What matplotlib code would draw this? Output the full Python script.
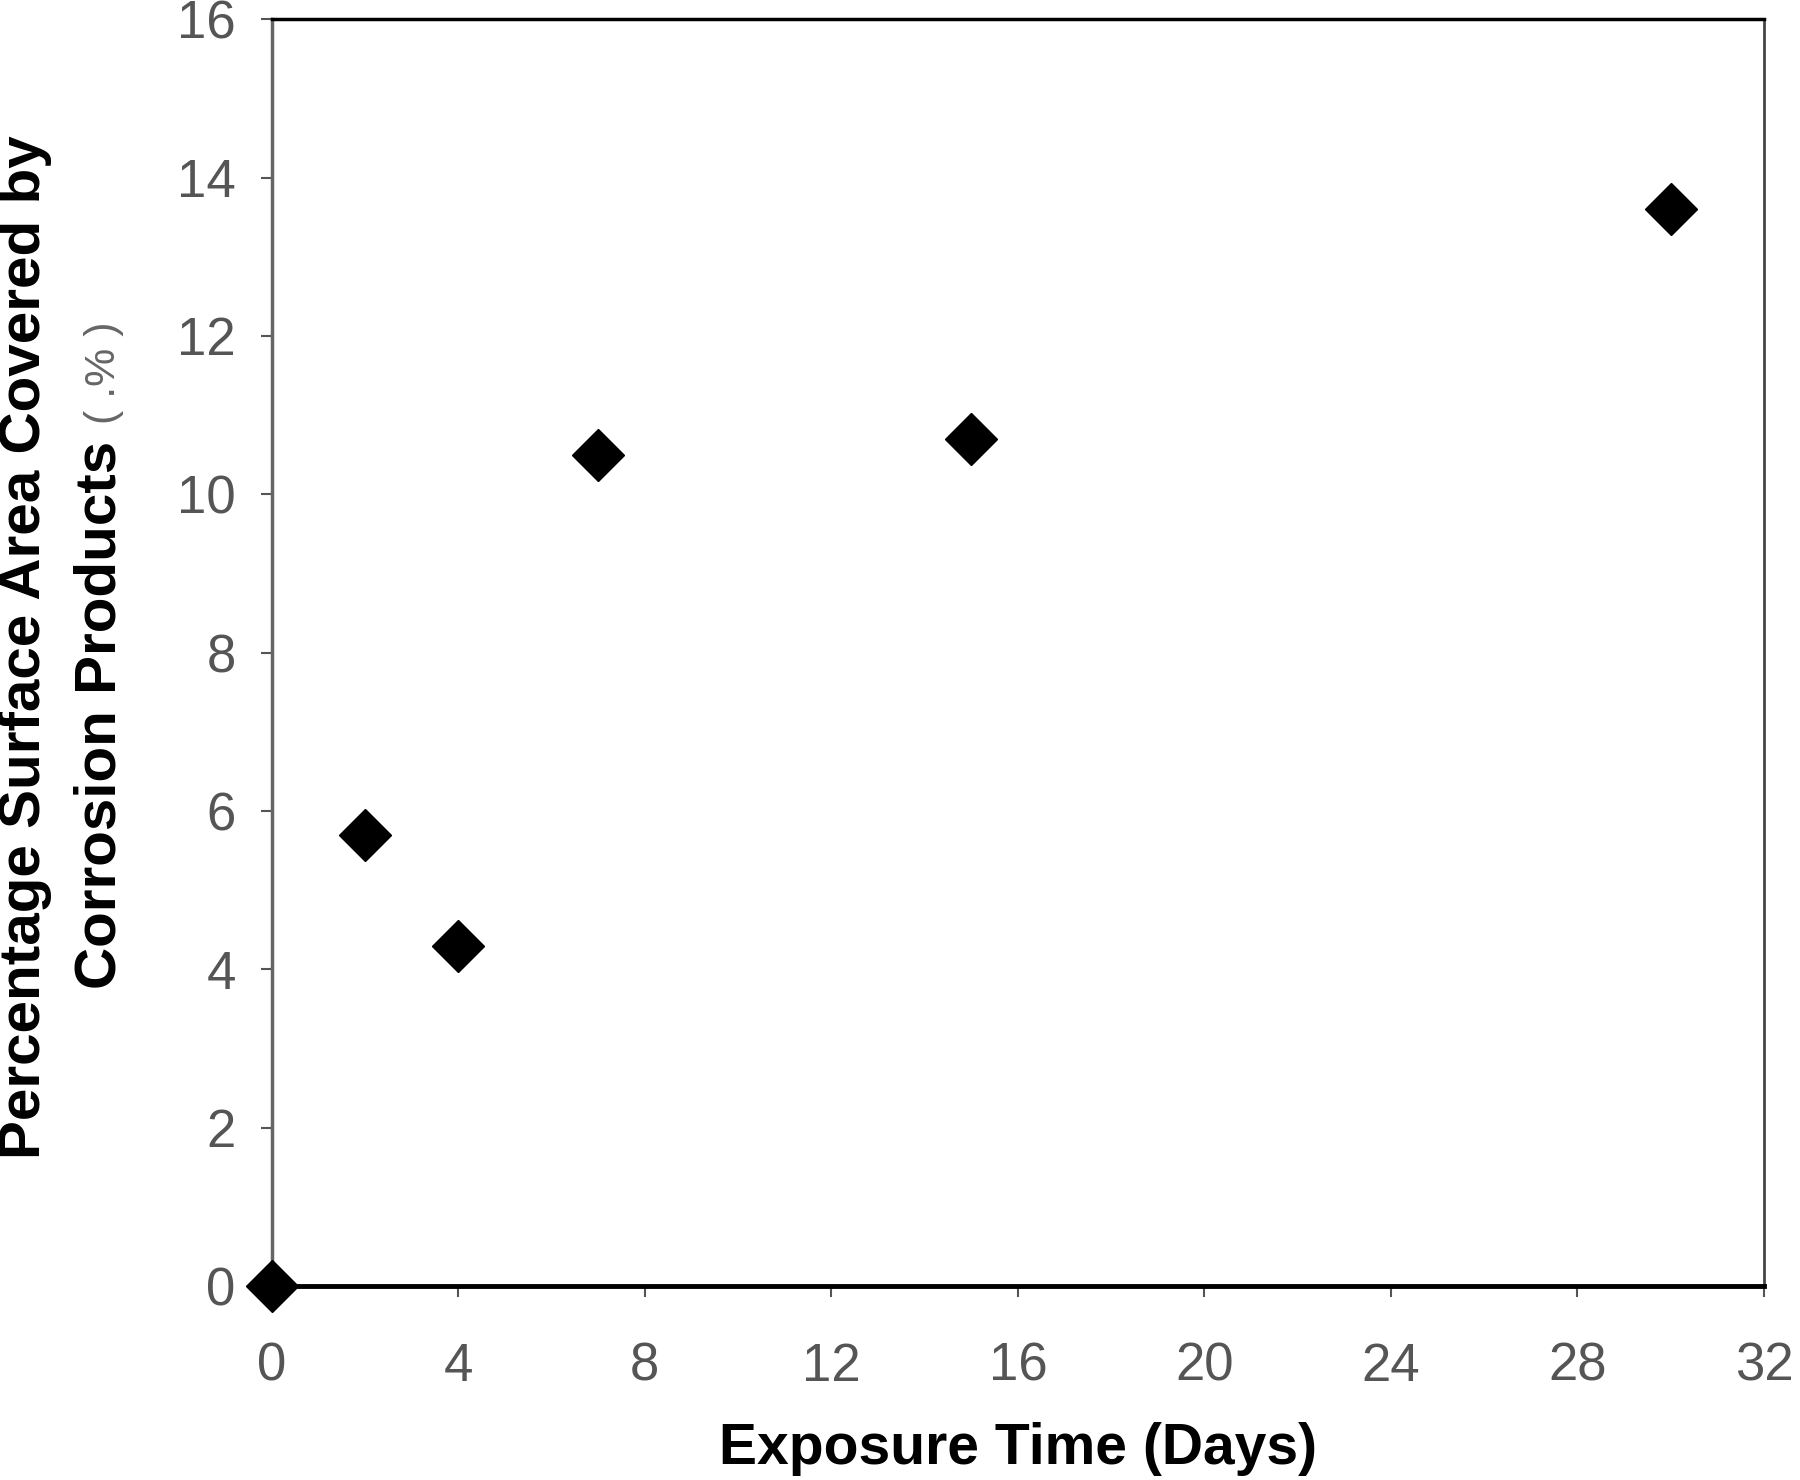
import matplotlib.pyplot as plt

plt.rcParams['font.family'] = ['Liberation Sans', 'DejaVu Sans']

days = [0, 2, 4, 7, 15, 30]
coverage = [0.0, 5.7, 4.3, 10.5, 10.7, 13.6]
x_ticks = [0, 4, 8, 12, 16, 20, 24, 28, 32]
y_ticks = [0, 2, 4, 6, 8, 10, 12, 14, 16]

fig = plt.figure(figsize=(18, 14.8), dpi=100)
ax = fig.add_axes([0.151, 0.131, 0.829, 0.856])

ax.plot(days, coverage, linestyle='none', marker='D', markersize=26,
        color='black', clip_on=False, zorder=5)

ax.set_xlim(0, 32)
ax.set_ylim(0, 16)
ax.set_xticks(x_ticks)
ax.set_yticks(y_ticks)

ax.spines['top'].set_linewidth(2.5)
ax.spines['top'].set_color('black')
ax.spines['right'].set_linewidth(2)
ax.spines['right'].set_color('#444444')
ax.spines['left'].set_linewidth(2.5)
ax.spines['left'].set_color('#666666')
ax.spines['bottom'].set_linewidth(3.5)
ax.spines['bottom'].set_color('black')

ax.tick_params(axis='x', direction='out', length=8, width=1.5, color='#555555',
               labelsize=38, labelcolor='#555555', pad=32)
ax.tick_params(axis='y', direction='out', length=8, width=1.5, color='#555555',
               labelsize=38, labelcolor='#555555', pad=18)

ax.set_xlabel('Exposure Time (Days)', fontsize=41, fontweight='bold', labelpad=22)

fig.text(0.014, 0.563, 'Percentage Surface Area Covered by', rotation=90,
         ha='center', va='center', fontsize=42, fontweight='bold')
fig.text(0.056, 0.517, 'Corrosion Products', rotation=90,
         ha='center', va='center', fontsize=42, fontweight='bold')
fig.text(0.058, 0.748, '( .% )', rotation=90,
         ha='center', va='center', fontsize=31, color='#666666')

fig.savefig('out.png', dpi=100)
